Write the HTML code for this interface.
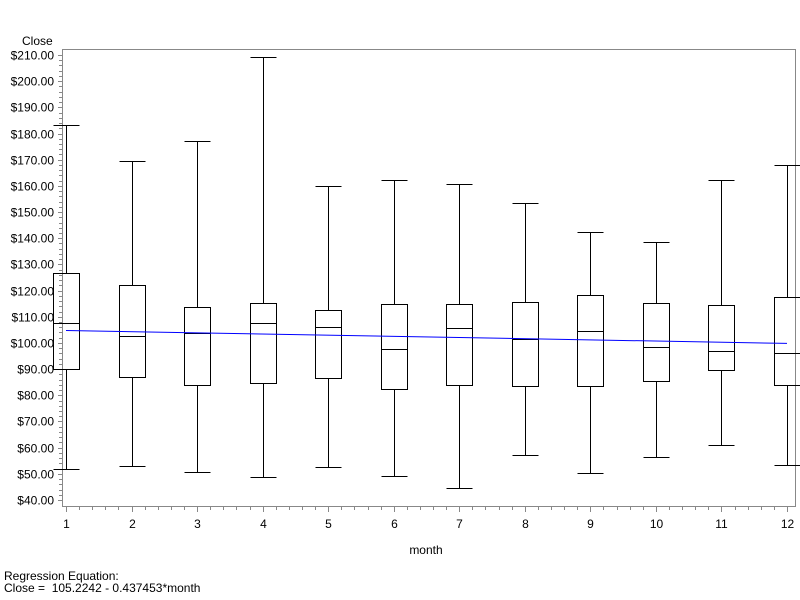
<!DOCTYPE html>
<html><head><meta charset="utf-8"><style>body{margin:0;background:#fff}svg{display:block;font-family:"Liberation Sans",sans-serif}</style></head><body>
<svg width="800" height="600" xmlns="http://www.w3.org/2000/svg">
<rect x="62.5" y="49.5" width="733" height="457" fill="none" stroke="#888" stroke-width="1"/>
<g id="yt" stroke="#888" font-size="12" fill="#000"></g>
<g id="xt" stroke="#888"></g>
<g id="boxes" stroke="#000" fill="none" stroke-width="1"></g>
<line x1="66" y1="330.5" x2="787" y2="343.4" stroke="#00f" stroke-width="1"/>
<text x="22" y="45" font-size="12">Close</text>
<text x="426" y="554" font-size="12" text-anchor="middle">month</text>
<text x="4" y="580" font-size="12">Regression Equation:</text>
<text x="4" y="592" font-size="12" xml:space="preserve">Close =  105.2242 - 0.437453*month</text>
<script>
var ns="http://www.w3.org/2000/svg";
function el(p,t,a,txt){var e=document.createElementNS(ns,t);for(var k in a)e.setAttribute(k,a[k]);if(txt!==undefined)e.textContent=txt;p.appendChild(e);return e;}
var yt=document.getElementById('yt'),xt=document.getElementById('xt'),bx=document.getElementById('boxes');
function Y(v){return 55+(210-v)*445/170;}
for(var v=40;v<=210;v+=2){var y=Math.round(Y(v))+0.5;var maj=(v%10==0);el(yt,'line',{x1:maj?58:59,x2:62,y1:y,y2:y});
 if(maj)el(yt,'text',{x:54,y:y+4,'text-anchor':'end',stroke:'none'},'$'+v+'.00');}
function X(m){return 66+(m-1)*721/11;}
for(var m=1;m<=12;m+=0.2){var x=Math.round(X(m))+0.5;var maj=Math.abs(m-Math.round(m))<0.01;el(xt,'line',{x1:x,x2:x,y1:507,y2:maj?512:510});
 if(maj)el(xt,'text',{x:x,y:528,'text-anchor':'middle','font-size':12,stroke:'none',fill:'#000'},Math.round(m));}
var d=[[125,273,323,369,469],[161,285,336,377,466],[141,307,333,385,472],[57,303,323,383,477],[186,310,327,378,467],[180,304,349,389,476],[184,304,328,385,488],[203,302,339,386,455],[232,295,331,386,473],[242,303,347,381,457],[180,305,351,370,445],[165,297,353,385,465]];
d.forEach(function(r,i){var x=Math.round(X(i+1))+0.5;
 el(bx,'line',{x1:x-13,x2:x+13,y1:r[0]+.5,y2:r[0]+.5});
 el(bx,'line',{x1:x-13,x2:x+13,y1:r[4]+.5,y2:r[4]+.5});
 el(bx,'line',{x1:x,x2:x,y1:r[0],y2:r[1]});
 el(bx,'line',{x1:x,x2:x,y1:r[3],y2:r[4]});
 el(bx,'rect',{x:x-13,y:r[1]+.5,width:26,height:r[3]-r[1]});
 el(bx,'line',{x1:x-13,x2:x+13,y1:r[2]+.5,y2:r[2]+.5});});
</script>
</svg>
</body></html>
